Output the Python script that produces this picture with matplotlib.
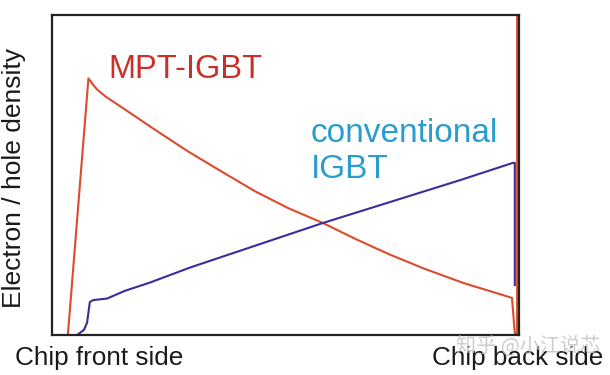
import matplotlib
matplotlib.use("Agg")
import matplotlib.pyplot as plt

plt.rcParams['font.family'] = ['Liberation Sans', 'DejaVu Sans']

# MPT-IGBT carrier density profile (position across chip %, density %)
mpt_x = [3.4, 7.8, 8.6, 9.6, 11.4, 15.6, 22.1, 29.1, 36.4, 43.5, 50.5, 58.0, 65.3,
         72.4, 79.4, 88.0, 98.5, 99.1, 99.6, 99.6]
mpt_y = [0.0, 80.2, 78.6, 76.8, 74.6, 70.5, 64.1, 57.4, 51.0, 44.9, 39.7, 35.0, 29.8,
         25.1, 20.9, 16.3, 11.6, 0.6, 0.6, 100.0]

# Conventional IGBT carrier density profile
conv_x = [5.35, 6.85, 7.5, 8.1, 8.8, 11.8, 15.6, 21.0, 29.6, 58.0, 87.4, 98.7, 99.1, 99.1]
conv_y = [0.0, 1.6, 3.8, 10.3, 10.9, 11.4, 13.8, 16.4, 21.1, 35.0, 48.4, 53.8, 53.8, 15.6]

label_mpt = "MPT-IGBT"
label_conv = ["conventional", "IGBT"]
xlabels = ["Chip front side", "Chip back side"]
ylabel = "Electron / hole density"
watermark = "知乎 @小江说芯"

W, H = 610, 375
fig = plt.figure(figsize=(W / 100, H / 100), dpi=100)
ax = fig.add_axes([52 / W, 1 - 335 / H, (519 - 52) / W, (335 - 15) / H])
ax.set_xlim(0, 100)
ax.set_ylim(0, 100)
ax.set_xticks([])
ax.set_yticks([])
for s in ax.spines.values():
    s.set_linewidth(1.6)
    s.set_color('#222222')

ax.plot(mpt_x, mpt_y, color='#dd4a2c', lw=1.5, solid_joinstyle='round')
ax.plot(conv_x, conv_y, color='#3b2b9c', lw=1.5, solid_joinstyle='round')

fig.text(108 / W, 1 - 78 / H, label_mpt, color='#c93029', fontsize=23.5,
         ha='left', va='baseline')
fig.text(311 / W, 1 - 142 / H, label_conv[0], color='#2a9ccf', fontsize=24,
         ha='left', va='baseline')
fig.text(311 / W, 1 - 178 / H, label_conv[1], color='#2a9ccf', fontsize=24,
         ha='left', va='baseline')

fig.text(15 / W, 1 - 365 / H, xlabels[0], color='#1a1a1a', fontsize=18.8,
         ha='left', va='baseline')
fig.text(432 / W, 1 - 365 / H, xlabels[1], color='#1a1a1a', fontsize=18.8,
         ha='left', va='baseline')
fig.text(14 / W, 1 - 178 / H, ylabel, color='#1a1a1a', fontsize=19,
         rotation=90, ha='center', va='center')

fig.text(528 / W, 1 - 346 / H, watermark, color='#c4c4c4', alpha=0.85,
         fontsize=14.5, ha='center', va='center',
         family=['Noto Sans CJK SC', 'DejaVu Sans'], zorder=10)

fig.savefig('out.png', dpi=100)
